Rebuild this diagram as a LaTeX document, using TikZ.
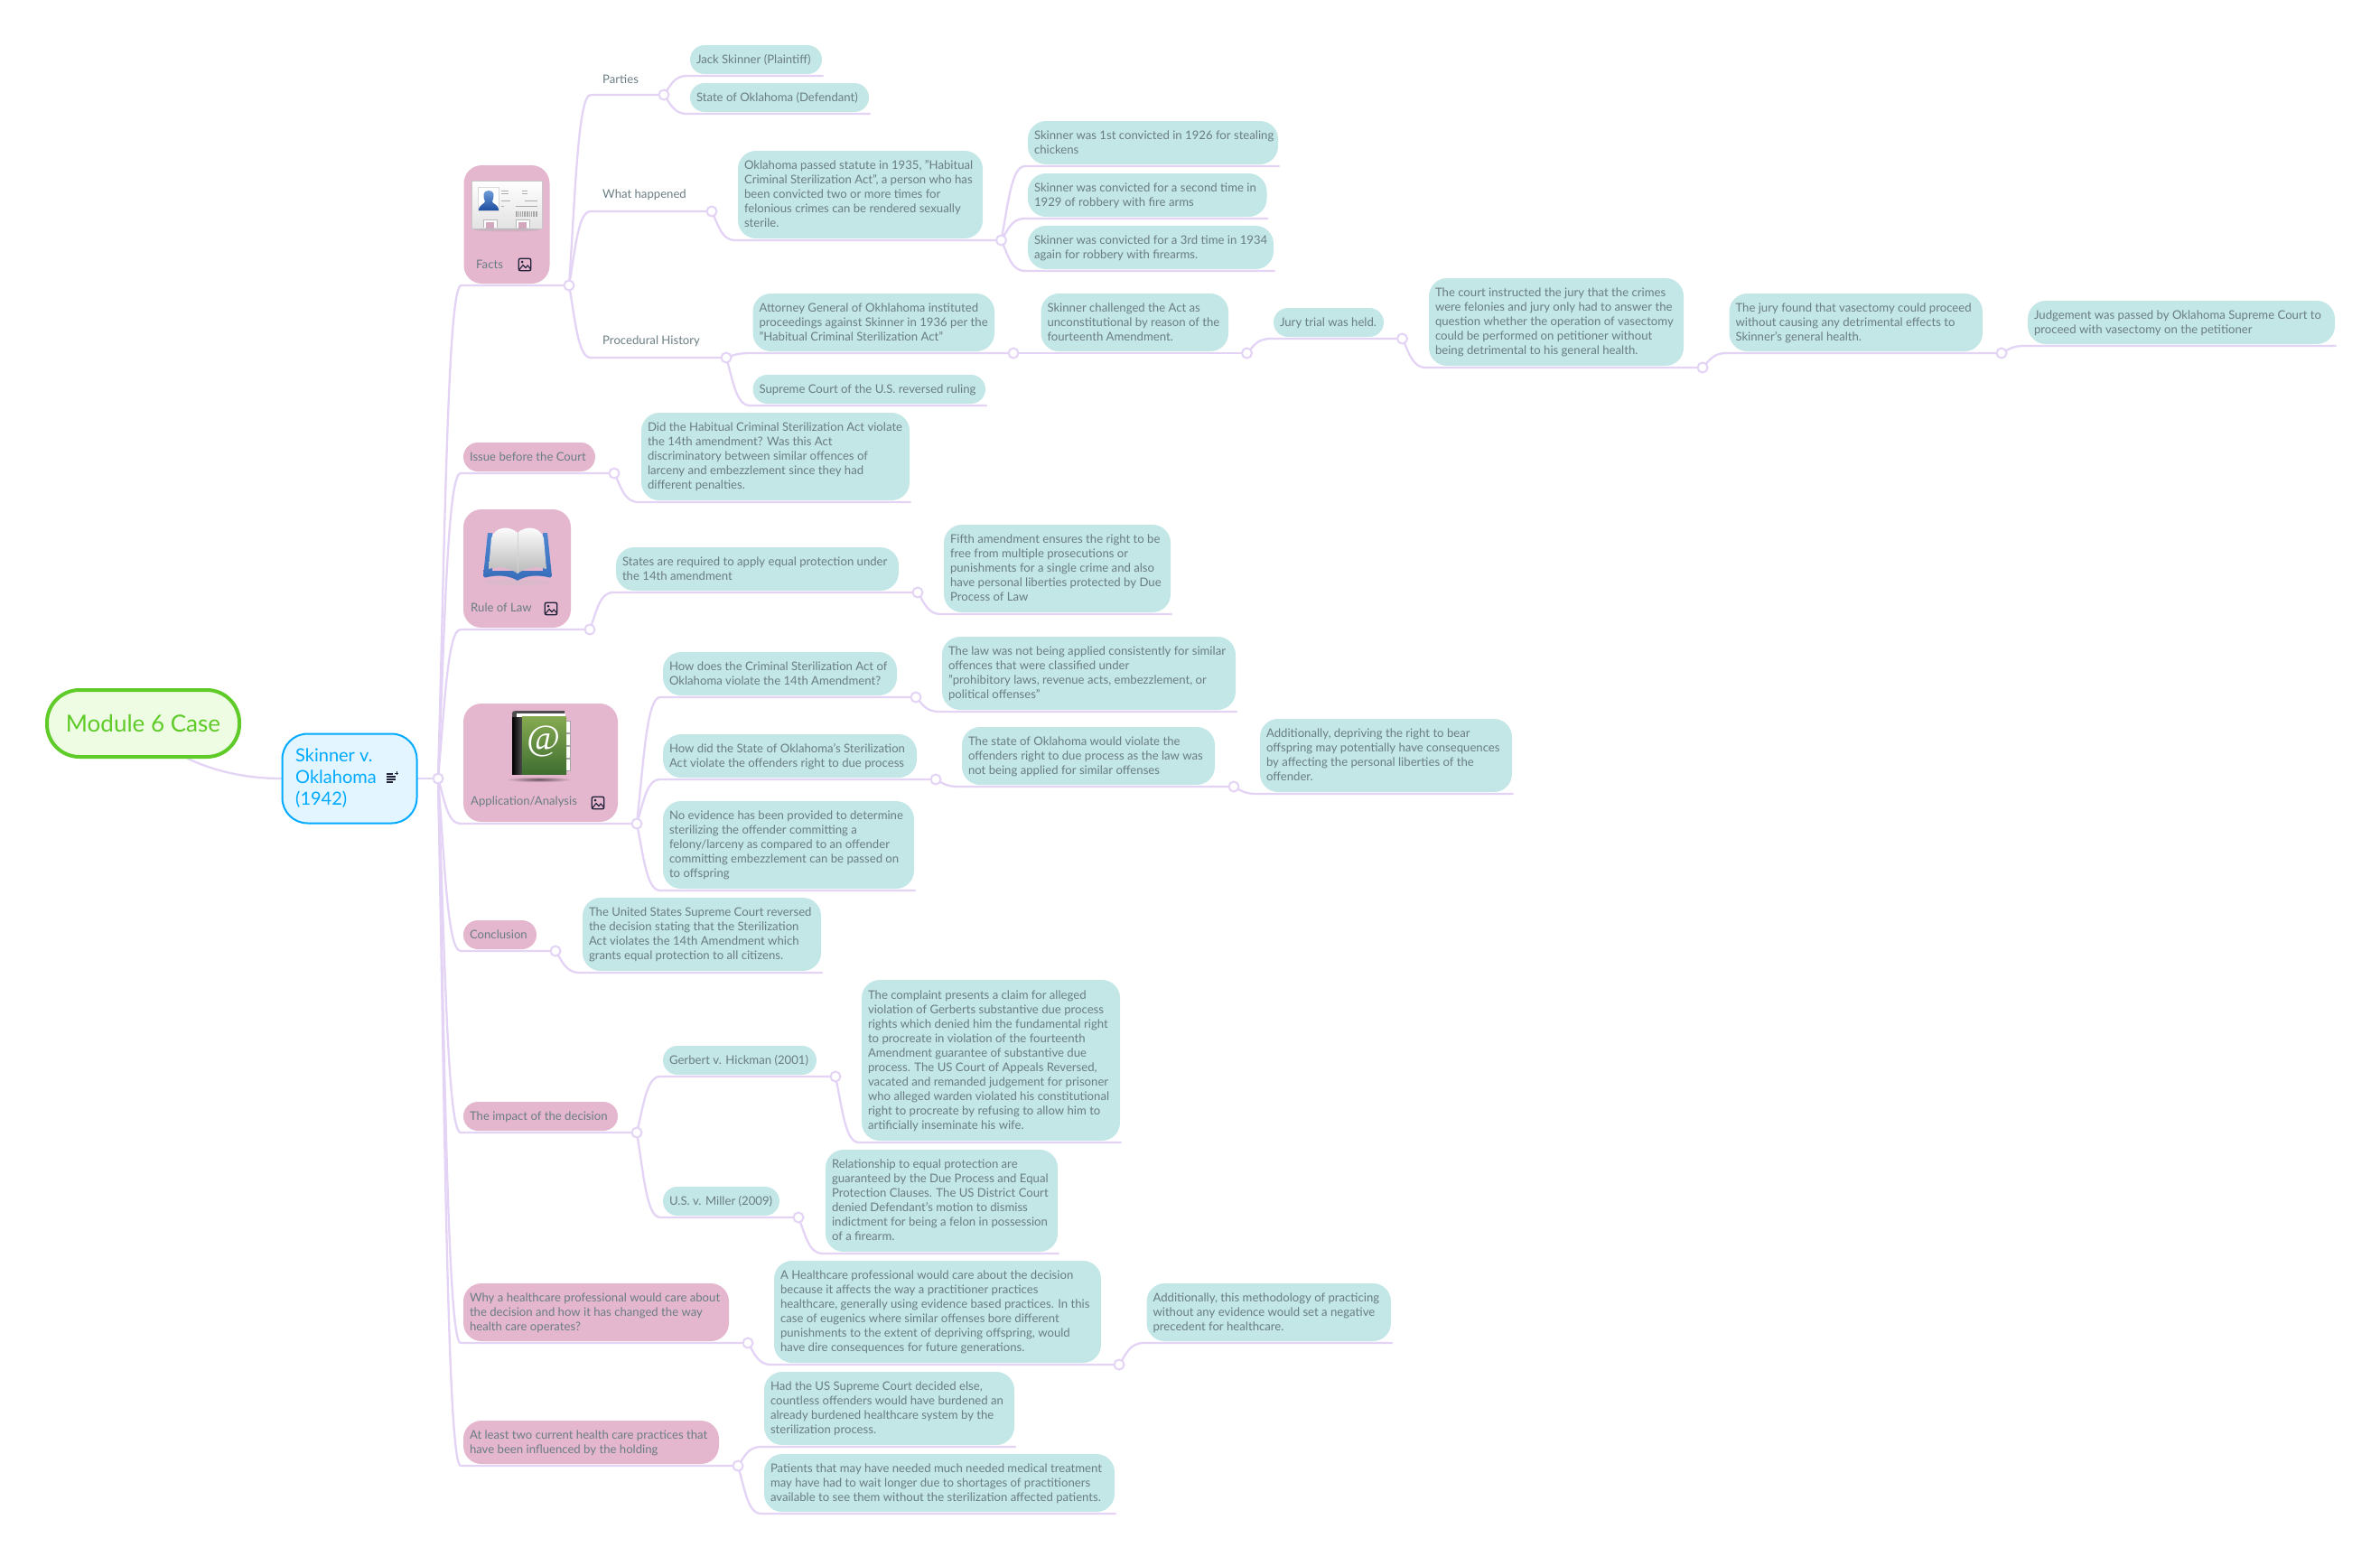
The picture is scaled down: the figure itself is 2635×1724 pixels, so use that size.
\documentclass[tikz,border=0pt]{standalone}
\usepackage{fontspec}
\setmainfont{Lato}
\newfontfamily\atfont{Liberation Serif}
\usetikzlibrary{backgrounds,calc,shapes.geometric}
\definecolor{linkc}{HTML}{E3D3F5}
\definecolor{tealc}{HTML}{C3E7E6}
\definecolor{pinkc}{HTML}{E4B7CF}
\definecolor{txtc}{HTML}{6A7D82}
\definecolor{rootfill}{HTML}{EEFCE4}
\definecolor{rootline}{HTML}{5FCB28}
\definecolor{mainfill}{HTML}{E3F5FF}
\definecolor{mainline}{HTML}{00AAFF}
\definecolor{iconc}{HTML}{22223A}
\definecolor{bookblue}{HTML}{4E86D0}
\definecolor{bookblued}{HTML}{3A6FBC}
\definecolor{greent}{HTML}{86AA50}
\definecolor{greenb}{HTML}{3F6E32}
\definecolor{idblue}{HTML}{6F9BD8}
\definecolor{idblued}{HTML}{1E4FA0}
\tikzset{
  x=1pt,y=-1pt,
  boxbase/.style={rectangle,rounded corners=20pt,inner sep=0pt,outer sep=0pt,text=txtc,font=\fontsize{13.15}{16}\selectfont},
  teal/.style={boxbase,fill=tealc},
  pink/.style={boxbase,fill=pinkc},
  plain/.style={boxbase},
  pill/.style={rounded corners=16pt},
  hubnode/.style={circle,draw=linkc,line width=2pt,fill=white,minimum size=11pt,inner sep=0pt},
  link/.style={draw=linkc,line width=2.3pt,line cap=round},
  lbl/.style={inner sep=0pt,anchor=west,text=txtc,font=\fontsize{13.15}{16}\selectfont},
}
% #1 style, #2 name, #3-#6 box, #7 text
\newcommand{\tbox}[7]{%
  \node[#1,minimum width={(#5-#3)*1pt},minimum height={(#6-#4)*1pt}] (#2) at ({(#3+#5)/2},{(#4+#6)/2})
   {\raisebox{0pt}[\dimexpr\height+2pt\relax][\depth]{\makebox[\dimexpr #5pt-#3pt-14pt\relax][l]{\begin{tabular}{@{}l@{}}#7\end{tabular}}}};
  \coordinate (#2-l) at ({#3-3},{#6+2});
  \coordinate (#2-r) at ({#5+1},{#6+2});
}
\newcommand{\hub}[3]{\node[hubnode] (#1) at (#2,#3) {};}
\newcommand{\conn}[3]{%
  \draw[link] let \p1=(#1),\p2=(#2-l) in (\p1)
    .. controls ({\x1+0.3*(\x2-\x1)},{\y1+0.5*(\y2-\y1)}) and ({\x1+0.42*(\x2-\x1)},{\y2}) .. (\p2) -- (#3);}
\newcommand{\imgicon}[3]{%
  \begin{scope}[shift={(#2,#3)}]
  \node[draw=iconc,line width=1.4pt,rounded corners=2pt,minimum size=13.5pt,inner sep=0pt,fill=none] (#1) at (0,0) {};
  \fill[iconc] (-3,-3) circle (1.5);
  \draw[iconc,line width=1.1pt] (-6,5.5) -- (-2,0.5) -- (1,3.5) -- (3.2,1) -- (6.3,4.5);
  \end{scope}}
\begin{document}
\begin{tikzpicture}
\useasboundingbox (0,0) rectangle (2635,1724);
% root and main
\node[rectangle,rounded corners=36pt,draw=rootline,line width=4pt,fill=rootfill,minimum width=213pt,minimum height=74pt,text=rootline,font=\fontsize{26}{30}\selectfont,inner sep=0pt] (root) at (158.5,801) {Module 6 Case};
\node[rectangle,rounded corners=28pt,draw=mainline,line width=2pt,fill=mainfill,minimum width=149pt,minimum height=99pt,inner sep=0pt] (main) at (387,862) {};
\node[inner sep=0pt,anchor=west,text=mainline,font=\fontsize{20}{24}\selectfont,align=left] (maintxt) at (327,861.5) {Skinner v.\\Oklahoma\\(1942)};
\begin{scope}[shift={(434,861)}]
\draw[iconc,line width=1.3pt] (-6,-4)--(1,-4) (-6,-1)--(4,-1) (-6,2)--(4,2) (-6,5)--(1,5);
\draw[iconc,line width=1pt] (5,-7)--(5,-3) (3,-5)--(7,-5);
\node[inner sep=0pt,minimum size=0pt] (noteicon) at (0,0) {};
\end{scope}
\hub{h0}{485}{862}
% Facts
\tbox{pink}{facts}{513.5}{183}{608.5}{314}{}
\node[lbl] (factstxt) at (527,293) {Facts};
\imgicon{factsicon}{581}{293}
\hub{hfacts}{630}{316}
\node[lbl] (partiestxt) at (667,87.5) {Parties};
\coordinate (parties-l) at (654,105);
\hub{hparties}{735}{105}
\tbox{teal,pill}{jack}{764}{50}{910}{82}{Jack Skinner (Plaintiff)}
\tbox{teal,pill}{state}{764}{92}{962}{124}{State of Oklahoma (Defendant)}
\node[lbl] (whattxt) at (667,216) {What happened};
\coordinate (what-l) at (654,234);
\hub{hwhat}{788}{234}
\tbox{teal}{okl}{817}{167}{1088}{264}{Oklahoma passed statute in 1935, "Habitual\\Criminal Sterilization Act", a person who has\\been convicted two or more times for\\felonious crimes can be rendered sexually\\sterile.}
\hub{hokl}{1108.5}{266}
\tbox{teal}{first}{1138}{134}{1415}{182}{Skinner was 1st convicted in 1926 for stealing\\chickens}
\tbox{teal}{second}{1138}{192}{1402.5}{240}{Skinner was convicted for a second time in\\1929 of robbery with fire arms}
\tbox{teal}{third}{1138}{250}{1410}{298}{Skinner was convicted for a 3rd time in 1934\\again for robbery with firearms.}
\node[lbl] (proctxt) at (667,378) {Procedural History};
\coordinate (proc-l) at (654,396);
\hub{hproc}{804}{396}
\tbox{teal}{att}{833.5}{325}{1101}{389}{Attorney General of Okhlahoma instituted\\proceedings against Skinner in 1936 per the\\"Habitual Criminal Sterilization Act"}
\hub{hatt}{1122}{391}
\tbox{teal,pill}{sup}{833.5}{415}{1091}{447}{Supreme Court of the U.S. reversed ruling}
\tbox{teal}{chal}{1152.5}{325}{1360}{389}{Skinner challenged the Act as\\unconstitutional by reason of the\\fourteenth Amendment.}
\hub{hchal}{1380.5}{391}
\tbox{teal,pill}{jury}{1410}{341}{1532}{373}{Jury trial was held.}
\hub{hjury}{1552.5}{375}
\tbox{teal}{court}{1582}{308}{1864}{405}{The court instructed the jury that the crimes\\were felonies and jury only had to answer the\\question whether the operation of vasectomy\\could be performed on petitioner without\\being detrimental to his general health.}
\hub{hcourt}{1885}{407}
\tbox{teal}{found}{1914.5}{325}{2195}{389}{The jury found that vasectomy could proceed\\without causing any detrimental effects to\\Skinner's general health.}
\hub{hfound}{2216}{391}
\tbox{teal}{judg}{2245}{333}{2585}{381}{Judgement was passed by Oklahoma Supreme Court to\\proceed with vasectomy on the petitioner}
% Issue
\tbox{pink,pill}{issue}{513}{490}{659}{522}{Issue before the Court}
\hub{hissue}{680}{524}
\tbox{teal}{did}{710}{457}{1007}{554}{Did the Habitual Criminal Sterilization Act violate\\the 14th amendment? Was this Act\\discriminatory between similar offences of\\larceny and embezzlement since they had\\different penalties.}
% Rule of law
\tbox{pink}{rule}{513}{564}{632}{695}{}
\node[lbl] (ruletxt) at (521,673) {Rule of Law};
\imgicon{ruleicon}{610}{674}
\hub{hrule}{653}{697}
\tbox{teal}{states}{682}{606}{995}{654}{States are required to apply equal protection under\\the 14th amendment}
\hub{hstates}{1016}{656}
\tbox{teal}{fifth}{1045}{581}{1296}{678}{Fifth amendment ensures the right to be\\free from multiple prosecutions or\\punishments for a single crime and also\\have personal liberties protected by Due\\Process of Law}
% Application
\tbox{pink}{app}{513}{779}{684}{910}{}
\node[lbl] (apptxt) at (521,888) {Application/Analysis};
\imgicon{appicon}{662}{889}
\hub{happ}{705}{912}
\tbox{teal}{hdoes}{734}{722}{993}{770}{How does the Criminal Sterilization Act of\\Oklahoma violate the 14th Amendment?}
\hub{hhdoes}{1014}{772}
\tbox{teal}{law}{1043}{705}{1368}{786}{The law was not being applied consistently for similar\\offences that were classified under\\"prohibitory laws, revenue acts, embezzlement, or\\political offenses"}
\tbox{teal}{hdid}{734}{813}{1015}{861}{How did the State of Oklahoma's Sterilization\\Act violate the offenders right to due process}
\hub{hhdid}{1036}{863}
\tbox{teal}{sok}{1065}{805}{1345}{869}{The state of Oklahoma would violate the\\offenders right to due process as the law was\\not being applied for similar offenses}
\hub{hsok}{1366}{871}
\tbox{teal}{dep}{1395}{796}{1674}{877}{Additionally, depriving the right to bear\\offspring may potentially have consequences\\by affecting the personal liberties of the\\offender.}
\tbox{teal}{noev}{734}{887}{1012}{984}{No evidence has been provided to determine\\sterilizing the offender committing a\\felony/larceny as compared to an offender\\committing embezzlement can be passed on\\to offspring}
% Conclusion
\tbox{pink,pill}{conc}{513}{1019}{594}{1051}{Conclusion}
\hub{hconc}{615}{1053}
\tbox{teal}{uss}{645}{994}{909}{1075}{The United States Supreme Court reversed\\the decision stating that the Sterilization\\Act violates the 14th Amendment which\\grants equal protection to all citizens.}
% Impact
\tbox{pink,pill}{imp}{513}{1220}{684}{1252}{The impact of the decision}
\hub{himp}{705}{1254}
\tbox{teal,pill}{gerb}{734}{1158}{904}{1190}{Gerbert v. Hickman (2001)}
\hub{hgerb}{925}{1192}
\tbox{teal}{comp}{954}{1085}{1240}{1263}{The complaint presents a claim for alleged\\violation of Gerberts substantive due process\\rights which denied him the fundamental right\\to procreate in violation of the fourteenth\\Amendment guarantee of substantive due\\process. The US Court of Appeals Reversed,\\vacated and remanded judgement for prisoner\\who alleged warden violated his constitutional\\right to procreate by refusing to allow him to\\artificially inseminate his wife.}
\tbox{teal,pill}{mill}{734}{1314}{863}{1346}{U.S. v. Miller (2009)}
\hub{hmill}{884}{1348}
\tbox{teal}{rel}{914}{1273}{1171}{1386}{Relationship to equal protection are\\guaranteed by the Due Process and Equal\\Protection Clauses. The US District Court\\denied Defendant's motion to dismiss\\indictment for being a felon in possession\\of a firearm.}
% Why
\tbox{pink}{why}{513}{1421}{807}{1485}{Why a healthcare professional would care about\\the decision and how it has changed the way\\health care operates?}
\hub{hwhy}{828}{1487}
\tbox{teal}{ahc}{857}{1396}{1219}{1509}{A Healthcare professional would care about the decision\\because it affects the way a practitioner practices\\healthcare, generally using evidence based practices. In this\\case of eugenics where similar offenses bore different\\punishments to the extent of depriving offspring, would\\have dire consequences for future generations.}
\hub{hahc}{1239}{1511}
\tbox{teal}{meth}{1269.5}{1421}{1540}{1485}{Additionally, this methodology of practicing\\without any evidence would set a negative\\precedent for healthcare.}
% At least
\tbox{pink}{atl}{513}{1573}{796}{1621}{At least two current health care practices that\\have been influenced by the holding}
\hub{hatl}{817}{1623}
\tbox{teal}{had}{846}{1519}{1123}{1600}{Had the US Supreme Court decided else,\\countless offenders would have burdened an\\already burdened healthcare system by the\\sterilization process.}
\tbox{teal}{pat}{846}{1610}{1234}{1674}{Patients that may have needed much needed medical treatment\\may have had to wait longer due to shortages of practitioners\\available to see them without the sterilization affected patients.}
% images: ID card
\shade[top color=white,bottom color=gray!22] (522,200) rectangle (600,253);
\draw[gray!45,line width=.5pt] (522,200) rectangle (600,253);
\fill[white,draw=gray!30,line width=.4pt] (529,207) rectangle (552,233);
\shade[top color=idblue,bottom color=idblued] (530,233) .. controls (530,226) and (537,226) .. (537,223) .. controls (534,216) and (535,211) .. (541,211) .. controls (547,211) and (548,216) .. (545,223) .. controls (545,226) and (552,226) .. (552,233) -- cycle;
\foreach \yy/\xa/\xb in {211/555/563,214/555/563,222/555/565,228/555/558,211/578/584,214/578/584,222/581/595,228/571/595}{\draw[gray!65,line width=.7pt] (\xa,\yy)--(\xb,\yy);}
\foreach \xx in {571,572.5,574.5,576,578,580,581,583,584.5,586.5,588,590,591,593,594.5}{\draw[gray!70,line width=.7pt] (\xx,234)--(\xx,240);}
\foreach \xx in {535,571}{\draw[gray!55,line width=.6pt,fill=white] (\xx,252) -- (\xx,243) -- (\xx+15,243) -- (\xx+15,252); \fill[pinkc!92!black] (\xx+3,246) rectangle (\xx+12,253);}
\fill[black!35,opacity=.35] (561,254.5) ellipse (36 and 2);
% images: open book
\fill[black!25,opacity=.25] (573,645) ellipse (36 and 3);
\shade[top color=bookblue,bottom color=bookblued] (540,590) -- (545,590) -- (545,632) -- (601,632) -- (601,590) -- (606,590) -- (611,638) .. controls (595,634) and (585,637) .. (573,640) .. controls (561,637) and (551,634) .. (535,638) -- cycle;
\shade[top color=white,middle color=gray!12,bottom color=gray!55] (541,630) -- (544,596) .. controls (548,582) and (565,582) .. (573,590) .. controls (581,582) and (598,582) .. (602,596) -- (605,630) .. controls (590,626) and (580,630) .. (573,635) .. controls (566,630) and (556,626) .. (541,630) -- cycle;
\draw[gray!35,line width=.6pt] (573,590) -- (573,635);
\draw[bookblued,line width=3.2pt,line cap=round] (537,638) .. controls (552,634) and (564,636) .. (573,641) .. controls (582,636) and (594,634) .. (609,638);
% images: address book
\shade[inner color=black!55!pinkc,outer color=pinkc] (560,860) rectangle (633,866);
\foreach \yy in {798,812,826,840}{\fill[white,draw=gray!70,line width=.5pt] (626,\yy) rectangle (631,\yy+13);}
\fill[black!70] (567,790) .. controls (567,788) and (568,787) .. (571,787) -- (625,787) -- (625,793) -- (578,793) -- (578,857) -- (567,857) -- cycle;
\fill[white] (572,790) rectangle (626,794);
\shade[left color=black,right color=black!70] (567,794) rectangle (578,857);
\shade[top color=greent,bottom color=greenb] (578,793) rectangle (627,857);
\node[inner sep=0pt,text=white,font=\atfont\itshape\fontsize{40}{40}\selectfont] (atsign) at (601.5,821) {@};
% connectors
\begin{scope}[on background layer]
\coordinate (rootout) at (208,840);
\draw[link] (rootout) .. controls (240,855) and (275,862) .. (main.west);
\draw[link] (main.east) -- (h0);
\conn{h0}{facts}{hfacts}
\conn{hfacts}{parties}{hparties}
\conn{hfacts}{what}{hwhat}
\conn{hfacts}{proc}{hproc}
\conn{hparties}{jack}{jack-r}
\conn{hparties}{state}{state-r}
\conn{hwhat}{okl}{hokl}
\conn{hokl}{first}{first-r}
\conn{hokl}{second}{second-r}
\conn{hokl}{third}{third-r}
\conn{hproc}{att}{hatt}
\conn{hproc}{sup}{sup-r}
\conn{hatt}{chal}{hchal}
\conn{hchal}{jury}{hjury}
\conn{hjury}{court}{hcourt}
\conn{hcourt}{found}{hfound}
\conn{hfound}{judg}{judg-r}
\conn{h0}{issue}{hissue}
\conn{hissue}{did}{did-r}
\conn{h0}{rule}{hrule}
\conn{hrule}{states}{hstates}
\conn{hstates}{fifth}{fifth-r}
\conn{h0}{app}{happ}
\conn{happ}{hdoes}{hhdoes}
\conn{hhdoes}{law}{law-r}
\conn{happ}{hdid}{hhdid}
\conn{hhdid}{sok}{hsok}
\conn{hsok}{dep}{dep-r}
\conn{happ}{noev}{noev-r}
\conn{h0}{conc}{hconc}
\conn{hconc}{uss}{uss-r}
\conn{h0}{imp}{himp}
\conn{himp}{gerb}{hgerb}
\conn{hgerb}{comp}{comp-r}
\conn{himp}{mill}{hmill}
\conn{hmill}{rel}{rel-r}
\conn{h0}{why}{hwhy}
\conn{hwhy}{ahc}{hahc}
\conn{hahc}{meth}{meth-r}
\conn{h0}{atl}{hatl}
\conn{hatl}{had}{had-r}
\conn{hatl}{pat}{pat-r}
\end{scope}
\end{tikzpicture}
\end{document}
